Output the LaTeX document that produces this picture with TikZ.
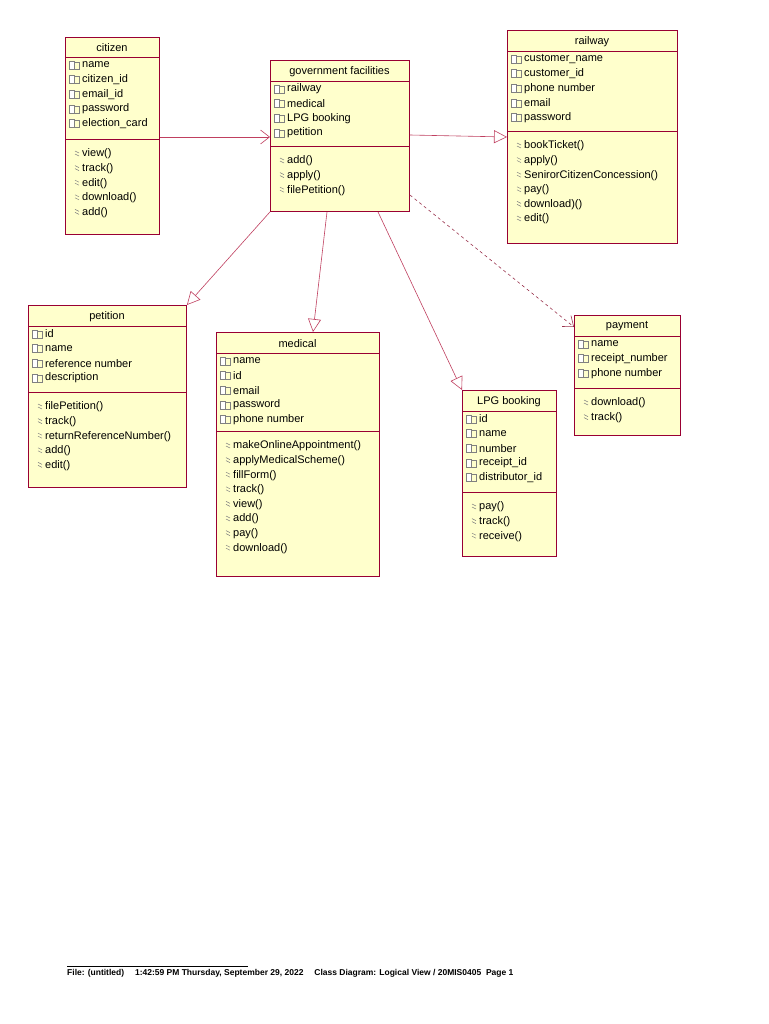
\documentclass[tikz,border=0pt]{standalone}
\usepackage{fontspec}
\setmainfont{Liberation Sans}
\usetikzlibrary{arrows.meta}
\definecolor{umlfill}{HTML}{FFFFCC}
\definecolor{umlline}{HTML}{990033}
\definecolor{conn}{HTML}{C04060}
\tikzset{
  cls/.style={draw=umlline,fill=umlfill,line width=0.9pt,anchor=north west,inner sep=0pt},
  txt/.style={anchor=west,inner sep=0pt,font=\fontsize{11}{12}\selectfont},
  ttl/.style={anchor=center,inner sep=0pt,font=\fontsize{11}{12}\selectfont},
  gen/.style={draw=conn,line width=0.6pt,-{Triangle[open,length=13pt,width=13pt]}},
  assoc/.style={draw=conn,line width=0.6pt,-{Straight Barb[length=9pt,width=14pt]}},
  dep/.style={draw=conn!80!black,line width=0.6pt,dashed,-{Straight Barb[length=9pt,width=14pt]}},
}
% \umlclass{name}{x}{y}{w}{h}{hdr}{div}{title}{attrs}{methods}
\newcommand{\umlclass}[9]{%
  \node[cls,minimum width=#4pt,minimum height=#5pt] (#1) at (#2,#3) {};
  \draw[umlline,line width=0.9pt] (#2,#3+#6) -- (#2+#4,#3+#6);
  \draw[umlline,line width=0.9pt] (#2,#3+#7) -- (#2+#4,#3+#7);
  \node[ttl] (#1-t) at (#2+#4/2,#3+#6/2+1) {#8};
  \foreach \a [count=\i] in {#9} {
    \pgfmathsetmacro{\yy}{#3+#6+8+14.6*(\i-1)}
    \node[txt] (#1-a\i) at (#2+17,\yy) {\a};
    \draw[gray,line width=0.5pt,fill=white] (#2+4,\yy-4) rectangle (#2+9,\yy+4);
    \draw[gray,line width=0.5pt] (#2+9,\yy-3) -- (#2+14,\yy-3) -- (#2+14,\yy+4) -- (#2+9,\yy+4);
  }
  \umlmethods{#2}{#3+#7}%
}
\newcommand{\umlmethods}[3]{%
  \foreach \m [count=\i] in {#3} {
    \pgfmathsetmacro{\yy}{#2+15+14.6*(\i-1)}
    \node[txt] (m\i) at (#1+17,\yy) {\m};
    \draw[gray,line width=0.5pt] (#1+10,\yy-3) -- (#1+14,\yy-1) (#1+10,\yy) -- (#1+14,\yy+2);
  }
}
\begin{document}
\begin{tikzpicture}[x=1pt,y=-1pt]
\useasboundingbox (0,0) rectangle (768,1024);
\fill[white] (0,0) rectangle (768,1024);
\umlclass{citizen}{65}{37}{94}{197}{20}{102}{citizen}{name,citizen\_id,email\_id,password,election\_card}{{view()},{track()},{edit()},{download()},{add()}}
\umlclass{gov}{270}{60}{139}{151}{21}{86}{government facilities}{railway,medical,LPG booking,petition}{{add()},{apply()},{filePetition()}}
\umlclass{railway}{507}{30}{170}{213}{21}{101}{railway}{customer\_name,customer\_id,phone number,email,password}{{bookTicket()},{apply()},{SenirorCitizenConcession()},{pay()},{download)()},{edit()}}
\umlclass{petition}{28}{305}{158}{182}{21}{87}{petition}{id,name,reference number,description}{{filePetition()},{track()},{returnReferenceNumber()},{add()},{edit()}}
\umlclass{medical}{216}{332}{163}{244}{21}{99}{medical}{name,id,email,password,phone number}{{makeOnlineAppointment()},{applyMedicalScheme()},{fillForm()},{track()},{view()},{add()},{pay()},{download()}}
\umlclass{lpg}{462}{390}{94}{166}{21}{102}{LPG booking}{id,name,number,receipt\_id,distributor\_id}{{pay()},{track()},{receive()}}
\umlclass{payment}{574}{315}{106}{120}{21}{73}{payment}{name,receipt\_number,phone number}{{download()},{track()}}
\draw[assoc] (citizen.east |- 0,137) -- (gov.west |- 0,137);
\draw[gen] (gov.east |- 0,135) -- (railway.west |- 0,137);
\draw[gen] (gov.south west) -- (petition.north east);
\draw[gen] ([xshift=57pt]gov.south west) -- ([xshift=97pt]medical.north west);
\draw[gen] ([xshift=108pt]gov.south west) -- (lpg.north west);
\draw[dep] (gov.east |- 0,195) -- (payment.west |- 0,327);
\draw[black,line width=0.6pt] (67,966) -- (248,966);
\node[anchor=west,inner sep=0pt,font=\fontsize{8.5}{10}\selectfont\bfseries] (footer) at (67,973) {File: (untitled)\quad\ 1:42:59 PM Thursday, September 29, 2022\quad\ Class Diagram: Logical View / 20MIS0405\ \ Page 1};
\end{tikzpicture}
\end{document}
